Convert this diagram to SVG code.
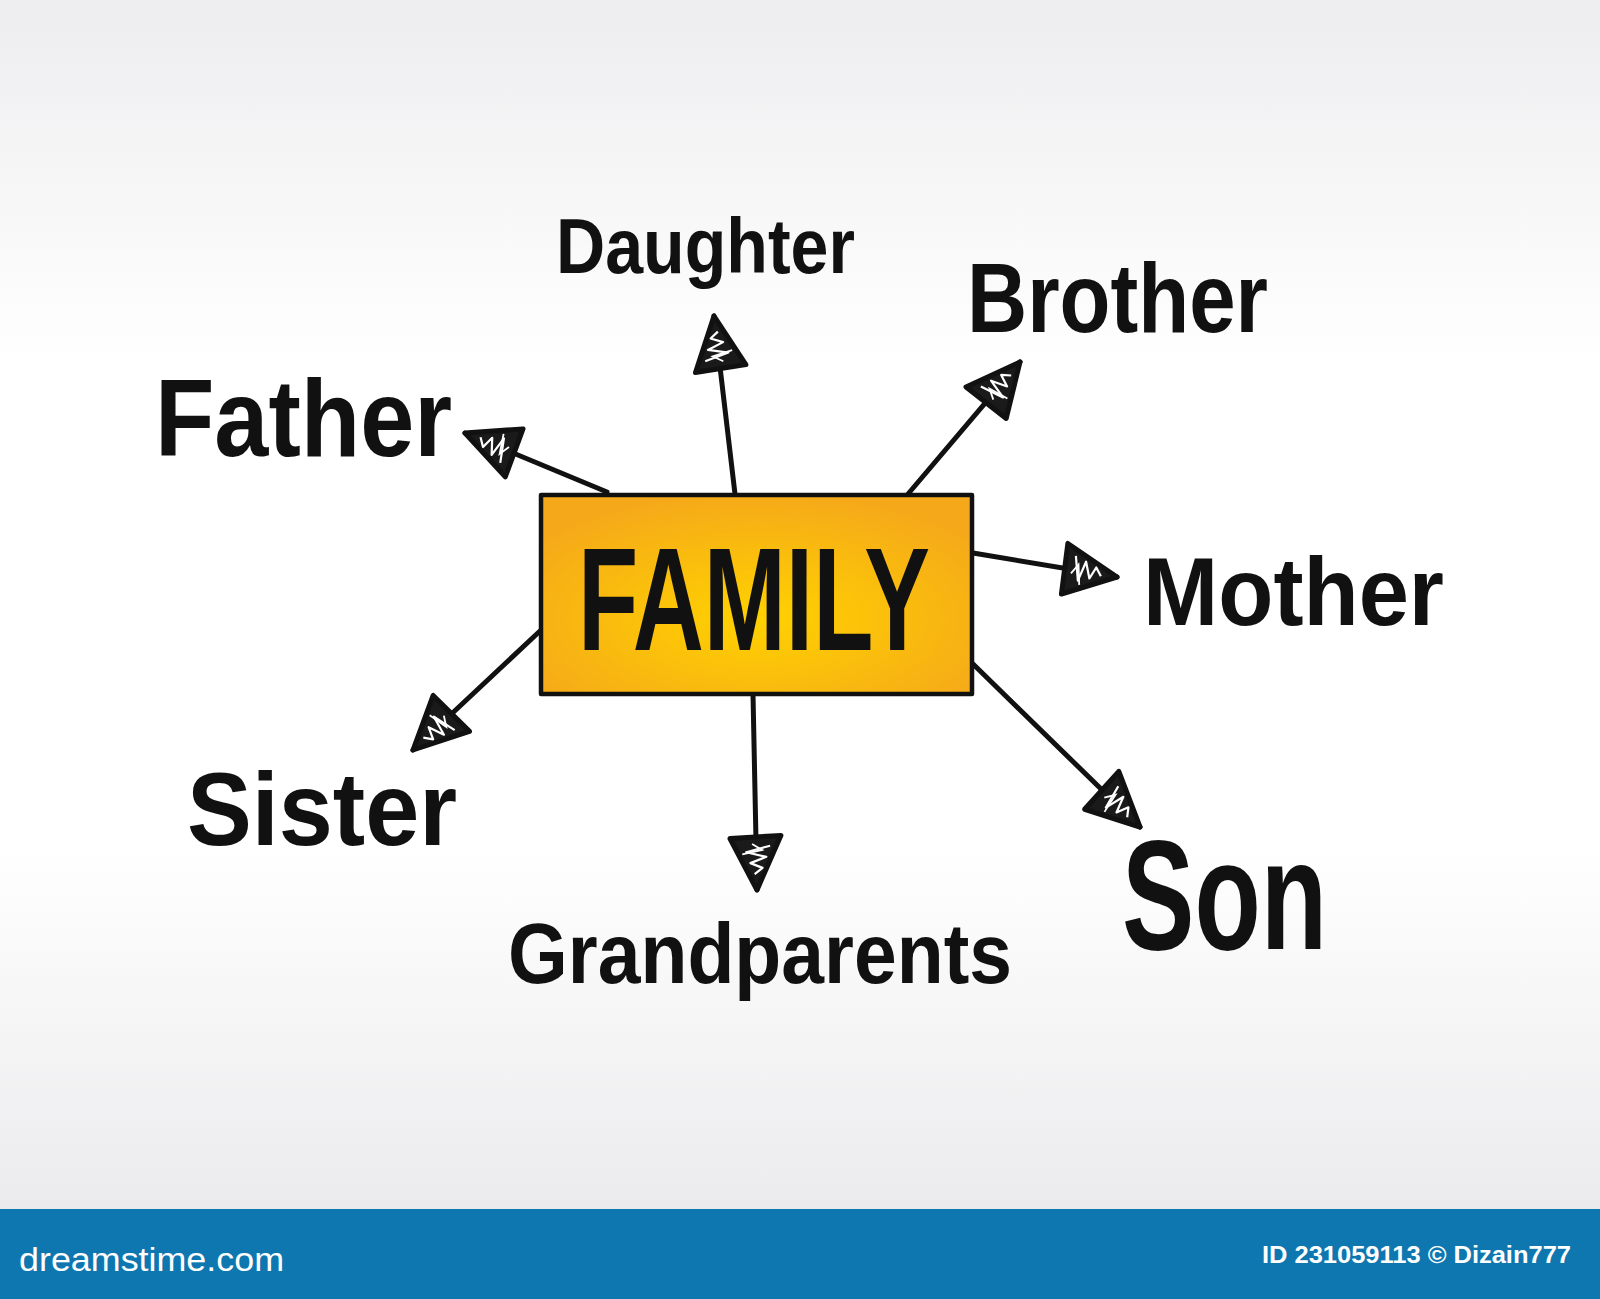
<svg xmlns="http://www.w3.org/2000/svg" width="1600" height="1299" viewBox="0 0 1600 1299">
  <defs>
    <linearGradient id="bg" x1="0" y1="0" x2="0" y2="1">
      <stop offset="0" stop-color="#ededef"/>
      <stop offset="0.3" stop-color="#ffffff"/>
      <stop offset="0.7" stop-color="#ffffff"/>
      <stop offset="1" stop-color="#ebebed"/>
    </linearGradient>
    <radialGradient id="boxfill" cx="50%" cy="62%" r="65%">
      <stop offset="0" stop-color="#ffd200"/>
      <stop offset="1" stop-color="#f5a81a"/>
    </radialGradient>
    <marker id="head" viewBox="-62 -32 68 64" refX="0" refY="0" markerWidth="68" markerHeight="64" markerUnits="userSpaceOnUse" orient="auto">
      <path d="M0,0 L-54,-25 L-52,26 Z" fill="#1a1a1a" stroke="#111" stroke-width="5" stroke-linejoin="round"/>
      <polyline points="-44,-14 -38,10 -33,-10 -27,6 -22,-6 -16,2" fill="none" stroke="#ffffff" stroke-width="2.2" stroke-linejoin="round"/>
      <polyline points="-46,4 -40,-6 -36,14" fill="none" stroke="#ffffff" stroke-width="1.8"/>
    </marker>
    <style>
      .lbl { font-family: "Liberation Sans", Arial, sans-serif; font-weight: bold; fill: #111; }
      .conn { stroke: #111; stroke-width: 5; fill: none; stroke-linecap: round; marker-end: url(#head); }
      .foot { font-family: "Liberation Sans", Arial, sans-serif; fill: #ffffff; }
    </style>
  </defs>

  <rect x="0" y="0" width="1600" height="1209" fill="url(#bg)"/>

  <g id="connectors">
    <line class="conn" x1="607" y1="492" x2="465" y2="433"/>
    <line class="conn" x1="735" y1="494" x2="714" y2="316"/>
    <line class="conn" x1="908" y1="494" x2="1020" y2="362"/>
    <line class="conn" x1="973" y1="553" x2="1117" y2="577"/>
    <line class="conn" x1="972" y1="663" x2="1140" y2="827"/>
    <line class="conn" x1="753" y1="694" x2="757" y2="890"/>
    <line class="conn" x1="540" y1="631" x2="413" y2="750"/>
  </g>

  <g id="node-family">
    <rect x="541" y="495" width="431" height="199" fill="url(#boxfill)" stroke="#111" stroke-width="4.5" stroke-linejoin="round"/>
    <text class="lbl" x="578" y="650" font-size="146" textLength="352" lengthAdjust="spacingAndGlyphs">FAMILY</text>
  </g>

  <g id="node-daughter">
    <text class="lbl" x="556" y="273" font-size="78" textLength="299" lengthAdjust="spacingAndGlyphs">Daughter</text>
  </g>
  <g id="node-brother">
    <text class="lbl" x="967" y="332" font-size="98" textLength="301" lengthAdjust="spacingAndGlyphs">Brother</text>
  </g>
  <g id="node-father">
    <text class="lbl" x="155" y="456" font-size="110" textLength="297" lengthAdjust="spacingAndGlyphs">Father</text>
  </g>
  <g id="node-mother">
    <text class="lbl" x="1143" y="625" font-size="96" textLength="301" lengthAdjust="spacingAndGlyphs">Mother</text>
  </g>
  <g id="node-sister">
    <text class="lbl" x="187" y="845" font-size="104" textLength="270" lengthAdjust="spacingAndGlyphs">Sister</text>
  </g>
  <g id="node-grandparents">
    <text class="lbl" x="508" y="983" font-size="86" textLength="504" lengthAdjust="spacingAndGlyphs">Grandparents</text>
  </g>
  <g id="node-son">
    <text class="lbl" x="1122" y="949" font-size="155" textLength="205" lengthAdjust="spacingAndGlyphs">Son</text>
  </g>

  <g id="footer">
    <rect x="0" y="1209" width="1600" height="90" fill="#0f77b0"/>
    <text class="foot" x="19" y="1271" font-size="33" textLength="265" lengthAdjust="spacingAndGlyphs">dreamstime.com</text>
    <text class="foot" x="1262" y="1263" font-size="24" font-weight="bold" textLength="309" lengthAdjust="spacingAndGlyphs">ID 231059113 © Dizain777</text>
  </g>
</svg>
